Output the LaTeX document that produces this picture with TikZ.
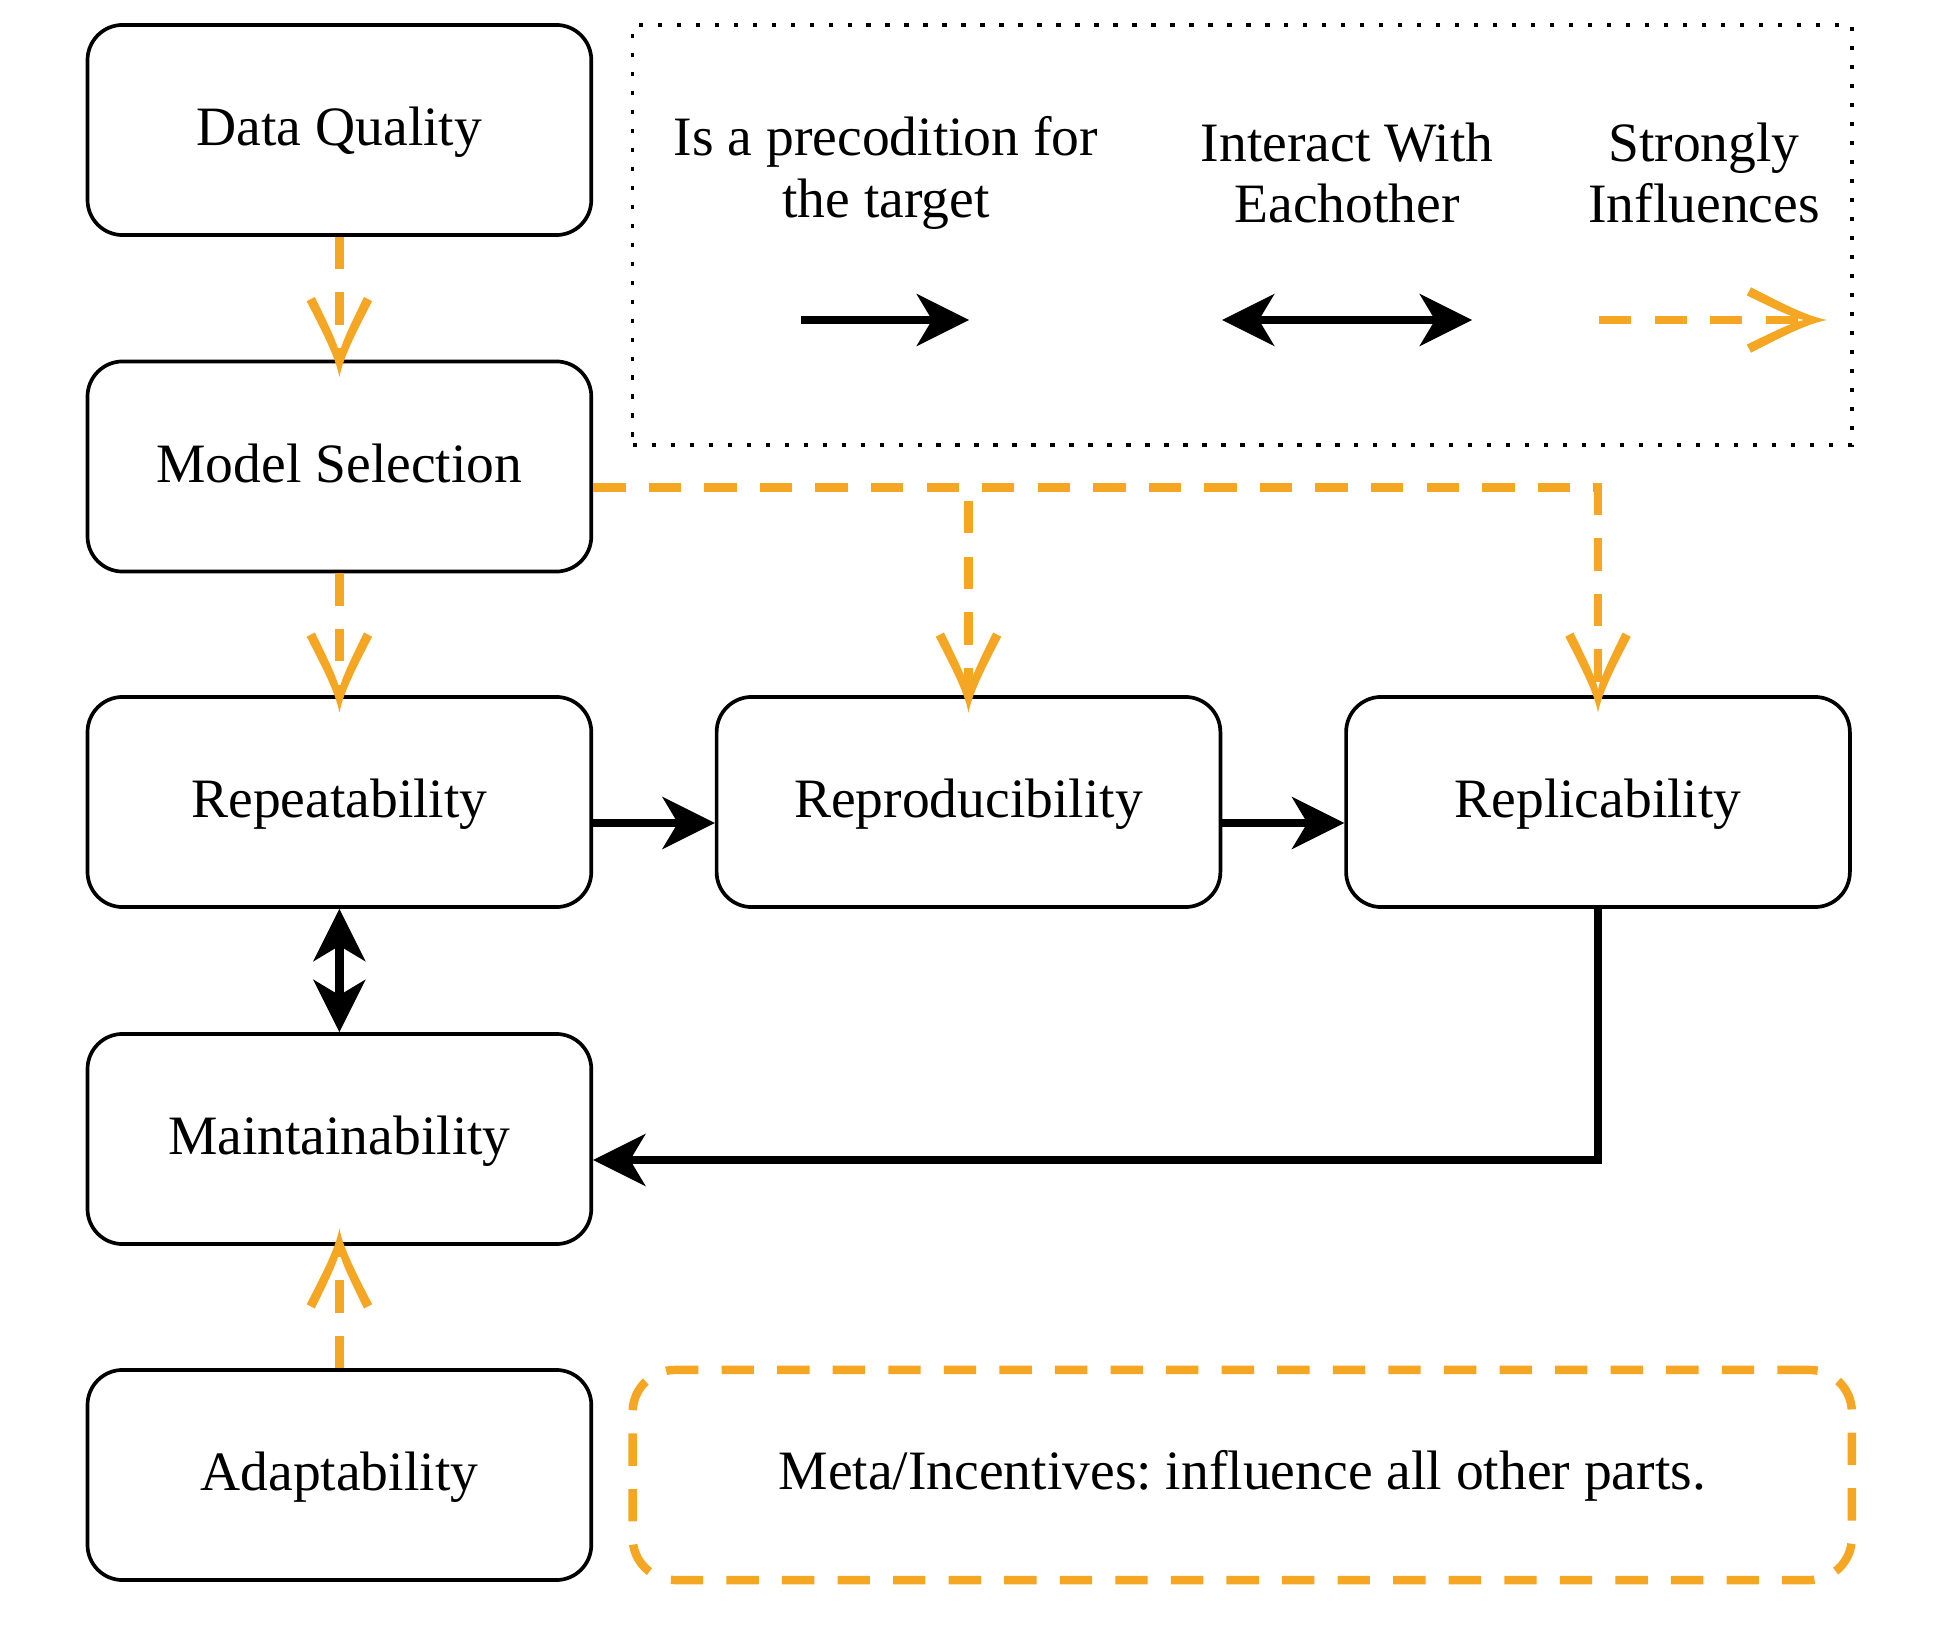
\documentclass[tikz,border=0pt]{standalone}
\usepackage{fontspec}
\setmainfont{Liberation Serif}
\usetikzlibrary{arrows.meta,calc}
\definecolor{orng}{RGB}{245,166,35}
\frenchspacing
\pgfdeclarearrow{
  name = OBarb,
  setup code = {
    \pgfarrowssettipend{0pt}
    \pgfarrowssetlineend{-6pt}
    \pgfarrowssetvisualbackend{-22pt}
    \pgfarrowssetbackend{-23pt}
  },
  drawing code = {
    \pgfsetfillcolor{orng}
    \pgfpathmoveto{\pgfpointorigin}
    \pgfpathcurveto{\pgfpoint{-6pt}{1.1pt}}{\pgfpoint{-14pt}{5.4pt}}{\pgfpoint{-21.6pt}{9.3pt}}
    \pgfpathlineto{\pgfpoint{-22.8pt}{7.0pt}}
    \pgfpathcurveto{\pgfpoint{-15pt}{3.2pt}}{\pgfpoint{-9.5pt}{0.5pt}}{\pgfpoint{-6.5pt}{0pt}}
    \pgfpathcurveto{\pgfpoint{-9.5pt}{-0.5pt}}{\pgfpoint{-15pt}{-3.2pt}}{\pgfpoint{-22.8pt}{-7.0pt}}
    \pgfpathlineto{\pgfpoint{-21.6pt}{-9.3pt}}
    \pgfpathcurveto{\pgfpoint{-14pt}{-5.4pt}}{\pgfpoint{-6pt}{-1.1pt}}{\pgfpointorigin}
    \pgfpathclose
    \pgfusepathqfill
  }
}
\tikzset{
  box/.style={draw, line width=1.05pt, rounded corners=10pt, minimum width=5.035cm,
    minimum height=2.1cm, inner sep=0pt, text height=9pt, text depth=0pt, align=center},
  blktip/.tip={Stealth[length=15pt, width=15pt, inset=4.5pt, line width=0pt]},
  blk/.style={line width=2.5pt, -blktip},
  dbl/.style={line width=2.5pt, blktip-blktip},
  orline/.style={draw=orng, line width=2.4pt, dash pattern=on 9.2pt off 6.6pt},
  orarr/.style={orline, -OBarb},
  legtext/.style={align=center, inner sep=0pt},
}
\begin{document}
\begin{tikzpicture}[x=0.01cm, y=-0.01cm, font=\fontsize{15.8pt}{17.6pt}\selectfont]
\useasboundingbox (0,0) rectangle (1960,1652);

% main boxes
\node[box] (dq)  at (339.4,130)   {Data Quality};
\node[box] (ms)  at (339.4,466.5) {Model Selection};
\node[box] (rep) at (339.4,802)   {Repeatability};
\node[box] (mnt) at (339.4,1139)  {Maintainability};
\node[box] (adp) at (339.4,1475)  {Adaptability};
\node[box] (rpd) at (968.5,802)   {Reproducibility};
\node[box] (rpl) at (1598,802)    {Replicability};

% legend
\node[draw, line width=0.95pt, dash pattern=on 1.2pt off 4.2pt, minimum width=12.185cm,
      minimum height=4.2cm, inner sep=0pt] (leg) at (1242.25,235) {};
\node[legtext] (l1) at (886,173)  {Is a precodition for\\the target};
\node[legtext] (l2) at (1347,173) {Interact With\\Eachother};
\node[legtext] (l3) at (1704,173) {Strongly\\Influences};
\coordinate (a1s) at (801,320);  \coordinate (a1e) at (969,320);
\coordinate (a2s) at (1222,320); \coordinate (a2e) at (1472,320);
\coordinate (a3s) at (1599,320); \coordinate (a3e) at (1827,320);
\draw[blk] (a1s) -- (a1e);
\draw[dbl] (a2s) -- (a2e);
\draw[orarr] (a3s) -- (a3e);

% meta box
\node[draw=orng, line width=2.4pt, dash pattern=on 9.2pt off 6.6pt, rounded corners=12pt,
      minimum width=12.185cm, minimum height=2.1cm, inner sep=0pt, text height=8pt,
      text depth=0pt] (meta) at (1242.25,1475) {Meta/Incentives: influence all other parts.};

% connectors
\draw[orarr, shorten >=-5pt] (dq.south) -- (ms.north);
\draw[orarr, shorten >=-5pt] (ms.south) -- (rep.north);
\coordinate (msout) at ($(ms.east)+(0,21)$);
\draw[orarr, shorten >=-5pt] (msout) -| (rpd.north);
\draw[orarr, shorten >=-5pt] (msout) -| (rpl.north);
\draw[blk] ($(rep.east)+(0,21)$) -- ($(rpd.west)+(0,21)$);
\draw[blk] ($(rpd.east)+(0,21)$) -- ($(rpl.west)+(0,21)$);
\draw[blk] (rpl.south) |- ($(mnt.east)+(0,21)$);
\draw[dbl] (rep.south) -- (mnt.north);
\draw[orarr, shorten >=-5pt] (adp.north) -- (mnt.south);
\end{tikzpicture}
\end{document}
